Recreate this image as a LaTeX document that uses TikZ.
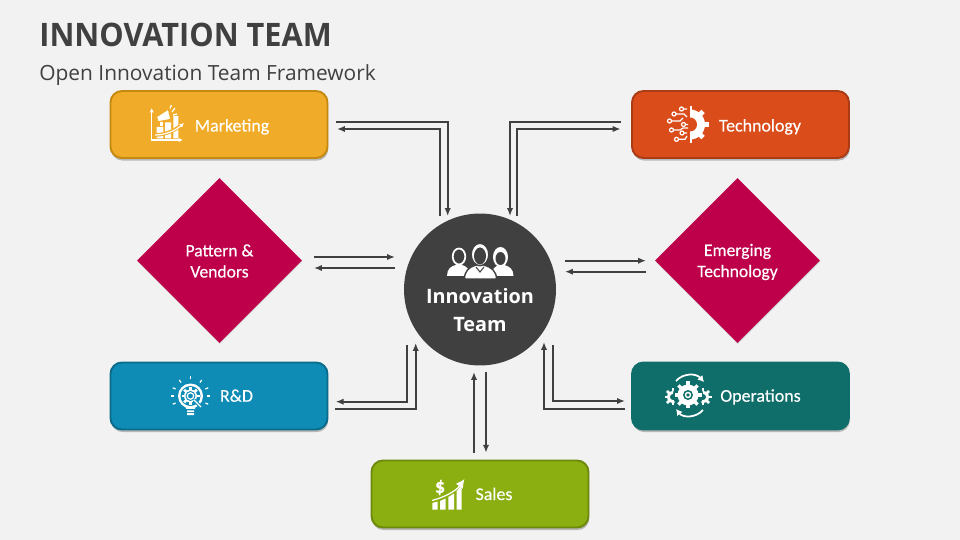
\documentclass[tikz,border=0pt]{standalone}
\usepackage{fontspec}
\usepackage{tikz}
\usetikzlibrary{positioning,arrows.meta,shapes.geometric,shadows}
\setmainfont[FakeBold=0.35]{Carlito}
\newfontfamily\headfont{Open Sans}
\newfontfamily\titlefont[FakeStretch=0.95]{Open Sans}

\definecolor{pagebg}{HTML}{F2F2F2}
\definecolor{inkgrey}{HTML}{404040}
\definecolor{mktfill}{HTML}{F0AB28}
\definecolor{mktedge}{HTML}{C4890F}
\definecolor{techfill}{HTML}{DA4C1A}
\definecolor{techedge}{HTML}{A93C14}
\definecolor{rndfill}{HTML}{0E8CB5}
\definecolor{rndedge}{HTML}{0B6B8A}
\definecolor{opsfill}{HTML}{0F6E69}
\definecolor{salesfill}{HTML}{8BAE10}
\definecolor{salesedge}{HTML}{6E8A0C}
\definecolor{diafill}{HTML}{BE004B}

% gear: x, y, body radius, tooth radius, fill of the hole, hole radius
\newcommand{\gearicon}[6]{%
  \begin{scope}[shift={(#1,#2)}]
    \foreach \a in {0,45,...,315} \draw[tooth] (\a:#3-1) -- (\a:#4);
    \fill[white] (0,0) circle (#3);
    \fill[#5] (0,0) circle (#6);
  \end{scope}}

\begin{document}
\begin{tikzpicture}[x=0.02cm,y=-0.02cm,
  boxnode/.style={rectangle,rounded corners=6.5pt,line width=1.1pt,minimum width=4.34cm,minimum height=1.34cm,inner sep=0pt,
    drop shadow={shadow xshift=0.4pt,shadow yshift=-1.5pt,opacity=0.5}},
  dianode/.style={diamond,aspect=1,fill=diafill,minimum size=3.3cm,inner sep=0pt,
    drop shadow={shadow xshift=0.2pt,shadow yshift=-0.6pt,opacity=0.3}},
  diatext/.style={text=white,align=center,font=\fontsize{10}{12}\selectfont,inner sep=0pt},
  boxtext/.style={text=white,anchor=base,font=\fontsize{10.2}{12}\selectfont,inner sep=0pt},
  link/.style={inkgrey,line width=1pt,-{Latex[length=4.5pt,width=3.6pt]}},
  icon/.style={white,line width=0.7pt},
  tooth/.style={white,line width=1.5pt},
  headtext/.style={text=inkgrey,anchor=west,inner sep=0pt}]

\fill[pagebg] (0,0) rectangle (960,540);
\useasboundingbox (0,0) rectangle (960,540);

% Title
\node[headtext,font=\titlefont\bfseries\fontsize{18.4}{22}\selectfont] (title) at (39,35) {INNOVATION TEAM};
\node[headtext,font=\headfont\fontsize{11.9}{14}\selectfont] (subtitle) at (39,75) {Open Innovation Team Framework};

% Boxes
\node[boxnode,fill=mktfill,draw=mktedge] (mkt) at (219,124.5) {};
\node[boxnode,fill=techfill,draw=techedge] (tech) at (740.5,124.5) {};
\node[boxnode,fill=rndfill,draw=rndedge] (rnd) at (219,396) {};
\node[boxnode,fill=opsfill,draw=opsfill] (ops) at (740.5,396) {};
\node[boxnode,fill=salesfill,draw=salesedge] (sales) at (480,494) {};
\node[boxtext] (mkttext) at (232,131.5) {Marketing};
\node[boxtext] (techtext) at (760,131.5) {Technology};
\node[boxtext] (rndtext) at (236.5,401.7) {R\&D};
\node[boxtext] (opstext) at (760.5,401.7) {Operations};
\node[boxtext] (salestext) at (494,500) {Sales};

% Diamonds
\node[dianode] (pat) at (219.5,260.5) {};
\node[dianode] (emg) at (737.5,260.5) {};
\node[diatext] (pattext) at (219.5,261) {Pattern \&\\Vendors};
\node[diatext] (emgtext) at (737.5,262) {Emerging\\Technology};

% Centre
\node[circle,fill=inkgrey,minimum size=3.04cm,inner sep=0pt] (team) at (480,289.5) {};
\node[text=white,align=center,font=\headfont\bfseries\fontsize{11.3}{16}\selectfont,inner sep=0pt] (teamtext) at (480,310) {Innovation\\Team};

% Free ends of the connectors
\coordinate (a1) at (336,121.7);   \coordinate (a2) at (447.7,216);
\coordinate (a3) at (440,216);     \coordinate (a4) at (337,129);
\coordinate (b1) at (620.6,121.7); \coordinate (b2) at (510,216);
\coordinate (b3) at (516.7,216);   \coordinate (b4) at (620.6,129);
\coordinate (c1) at (314,257);     \coordinate (c2) at (395,257);
\coordinate (c3) at (395,268);     \coordinate (c4) at (314,268);
\coordinate (d1) at (565,260.7);   \coordinate (d2) at (646,260.7);
\coordinate (d3) at (646,271.7);   \coordinate (d4) at (565,271.7);
\coordinate (e1) at (406.7,345);   \coordinate (e2) at (335.7,401.7);
\coordinate (e3) at (335,409);     \coordinate (e4) at (415.7,343);
\coordinate (f1) at (552.7,345);   \coordinate (f2) at (625,401);
\coordinate (f3) at (625,409);     \coordinate (f4) at (544,342);
\coordinate (g1) at (474,452.7);   \coordinate (g2) at (474,372);
\coordinate (g3) at (486,372);     \coordinate (g4) at (486,452.7);

\draw[link] (a1) -| (a2);
\draw[link] (a3) |- (a4);
\draw[link] (b1) -| (b2);
\draw[link] (b3) |- (b4);
\draw[link] (c1) -- (c2);
\draw[link] (c3) -- (c4);
\draw[link] (d1) -- (d2);
\draw[link] (d3) -- (d4);
\draw[link] (e1) |- (e2);
\draw[link] (e3) -| (e4);
\draw[link] (f1) |- (f2);
\draw[link] (f3) -| (f4);
\draw[link] (g1) -- (g2);
\draw[link] (g3) -- (g4);

% Marketing icon
\draw[icon,{Latex[length=2.5pt,width=2.5pt]}-{Latex[length=2.5pt,width=2.5pt]}] (151.7,108) |- (183,140);
\fill[white] (156.7,127) rectangle (163.3,138.5) (165,122.5) rectangle (171,138.5) (173.3,116) rectangle (178.3,138.5);
\draw[mktfill,line width=2pt] (154,135) .. controls (165,135) and (175,131) .. (184,123);
\draw[icon,-{Latex[length=2.5pt,width=2.5pt]}] (155,135) .. controls (165,135) and (175,131) .. (184,123);
\draw[mktfill,line width=0.5pt,fill=white] (156.7,116.7) -- (168.3,109.3) -- (170.7,119.3) -- (158,121.7) -- cycle;
\fill[white] (160,122) rectangle (163,126);
\draw[icon] (172,112) -- (175,108) (173,115) -- (177,114) (170,108.5) -- (171.5,105);

% Technology icon
\begin{scope}[tooth/.style={white,line width=2.8pt}]
  \clip (690,100) rectangle (715,150);
  \gearicon{690}{124.5}{15}{18.5}{techfill}{7}
\end{scope}
\draw[icon] (681.5,109) -- (687,109) (674,114) -- (684,114) -- (687,117) (669.5,121) -- (680,121) -- (683,118)
  (683.5,124.5) -- (688,124.5) (671.5,130) -- (680,130) -- (683,128) -- (688,128) (682,133) -- (687,133) (676.5,139.3) -- (685,139.3) -- (687,136);
\foreach \p in {(681.5,109),(674,114),(669.5,121),(683.5,124.5),(671.5,130),(682,133),(676.5,139.3)}
  \draw[icon,fill=techfill] \p circle (2);

% R&D icon
\begin{scope}[shift={(190.5,396)}]
  \foreach \a in {-90,-55,-25,0,25,155,180,205,235} \draw[icon] (\a:16.5) -- (\a:19.5);
\end{scope}
\fill[white] (190.5,396) circle (12.5);
\fill[rndfill] (190.5,396) circle (10);
\gearicon{190.5}{396}{6.5}{9}{rndfill}{5}
\draw[icon] (190.5,396) circle (3.2);
\draw[rndfill,line width=2pt] (194,400) -- (201,407);
\draw[icon] (194,400) -- (201,407);
\fill[white] (186,407.5) rectangle (195,409) (187,410.5) rectangle (194,412) (187,413) rectangle (194,415);

% Operations icon
\gearicon{673}{397}{6}{8.5}{opsfill}{3}
\gearicon{703}{397}{6}{8.5}{opsfill}{3}
\fill[opsfill] (688,395) circle (15);
\begin{scope}[tooth/.style={white,line width=2pt}]
  \gearicon{688}{395}{10.5}{13.5}{opsfill}{5}
\end{scope}
\draw[white,line width=0.8pt] (688,395) circle (2.5);
\draw[icon,line width=1pt,-{Latex[length=3.5pt,width=4pt]}] (676,381) .. controls (683,373) and (696,373) .. (704,382);
\draw[icon,line width=1pt,-{Latex[length=3.5pt,width=4pt]}] (703,410) .. controls (696,418) and (683,418) .. (676,409);

% Sales icon
\fill[white] (432.3,509.5) -- (432.3,503) -- (437.7,501.5) -- (437.7,509.5) -- cycle
  (440,509.5) -- (440,501) -- (445.7,498.5) -- (445.7,509.5) -- cycle
  (448.3,509.5) -- (448.3,497) -- (454,493.5) -- (454,509.5) -- cycle
  (456.7,509.5) -- (456.7,491) -- (461.7,485) -- (461.7,509.5) -- cycle;
\draw[icon,-{Latex[length=5pt,width=5pt]}] (432,500.5) .. controls (445,497) and (456,491) .. (464.5,479);
\node[text=white,font=\bfseries\fontsize{11.5}{12}\selectfont,inner sep=0pt] (dollar) at (440,487.5) {\$};

% People icon
\fill[white] (447,276) .. controls (447,269) and (451,266) .. (456,265) -- (462,265) .. controls (466,266) and (470,269) .. (470,276) -- cycle;
\draw[white,line width=1pt,fill=inkgrey] (459,256.5) ellipse (6.3 and 8);
\fill[white] (491,276) .. controls (491,269) and (496,266) .. (499,265) -- (504,265) .. controls (509,266) and (513.5,269) .. (513.5,276) -- cycle;
\fill[white] (500.5,257) ellipse (7.5 and 10);
\fill[inkgrey] (500.5,258.5) ellipse (5 and 6.5);
\draw[inkgrey,line width=0.8pt,fill=white] (464.5,279) .. controls (464.5,271) and (469,267) .. (476,265) -- (484,265) .. controls (491,267) and (496.5,271) .. (496.5,279) -- cycle;
\draw[inkgrey,line width=0.8pt,fill=white] (480,254.5) ellipse (8.8 and 11.2);
\fill[inkgrey] (480,256) ellipse (6 and 8.5);
\draw[inkgrey,line width=0.6pt] (476,267) -- (480,272) -- (484,267);
\end{tikzpicture}
\end{document}
